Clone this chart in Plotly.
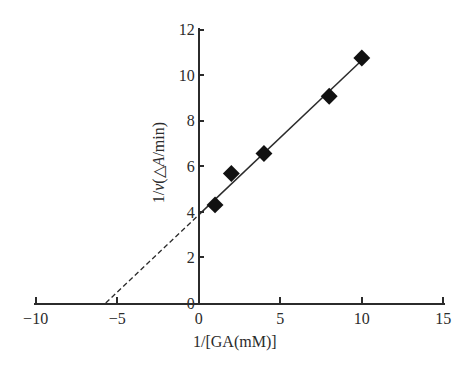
import plotly.graph_objects as go
import numpy as np

# Data
inv_s = [1, 2, 4, 8, 10]               # 1/[GA(mM)]
inv_v = [4.31, 5.69, 6.57, 9.08, 10.76]  # 1/v (ΔA/min)
fit_slope = 0.679
fit_intercept = 3.87
fit_x_end = 10.1

x_ticks = [-10, -5, 0, 5, 10, 15]
y_ticks = [0, 2, 4, 6, 8, 10, 12]

x_int = -fit_intercept / fit_slope
dash_x = [x_int, 0]
dash_y = [fit_slope * v + fit_intercept for v in dash_x]
solid_x = [0, fit_x_end]
solid_y = [fit_slope * v + fit_intercept for v in solid_x]

ink = "#2b2b2b"
font = "Liberation Serif"
fs = 16

fig = go.Figure()
fig.add_trace(go.Scatter(x=dash_x, y=dash_y, mode="lines",
                         line=dict(color=ink, width=1.3, dash="5px,3px"),
                         showlegend=False, hoverinfo="skip"))
fig.add_trace(go.Scatter(x=solid_x, y=solid_y, mode="lines",
                         line=dict(color=ink, width=1.5),
                         showlegend=False, hoverinfo="skip"))
fig.add_trace(go.Scatter(x=inv_s, y=inv_v, mode="markers",
                         marker=dict(symbol="diamond", size=13, color="#111111"),
                         showlegend=False, cliponaxis=False))

fig.update_layout(
    width=474, height=372,
    margin=dict(l=26, r=37, t=20, b=77),
    paper_bgcolor="white", plot_bgcolor="white",
    font=dict(family=font, size=fs, color=ink),
    xaxis=dict(range=[-10.1, 15.1], tickmode="array", tickvals=x_ticks, showgrid=False, zeroline=False,
               showline=True, linecolor=ink, linewidth=1.5,
               ticks="inside", ticklen=6, tickwidth=1.5, tickcolor=ink,
               tickfont=dict(family=font, size=fs, color=ink),
               domain=[0, 1]),
    yaxis=dict(range=[0, 12.08], tickmode="array", tickvals=y_ticks, showgrid=False, zeroline=False,
               showline=True, linecolor=ink, linewidth=1.5,
               ticks="inside", ticklen=5, tickwidth=1.5, tickcolor=ink,
               tickfont=dict(family=font, size=fs, color=ink),
               anchor="free", position=10.1 / 25.2, domain=[0, 1]),
    annotations=[
        dict(text="1/[GA(mM)]", xref="paper", yref="paper", x=0.49, y=-0.14,
             showarrow=False, xanchor="center", yanchor="middle",
             font=dict(family=font, size=fs, color=ink)),
        dict(text="1/<i>ν</i>(△<i>A</i>/min)", xref="paper", yref="paper",
             x=0.303, y=0.51, showarrow=False, textangle=-90,
             xanchor="center", yanchor="middle",
             font=dict(family=font, size=fs, color=ink)),
    ],
)

fig.write_html("out.html")
